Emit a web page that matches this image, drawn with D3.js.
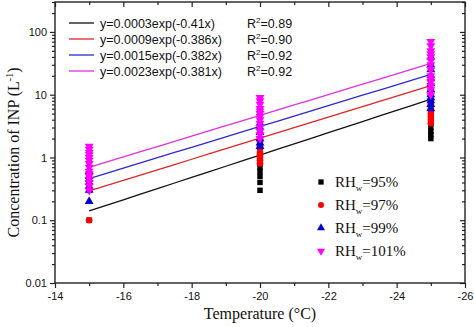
<!DOCTYPE html>
<html><head><meta charset="utf-8">
<script src="https://cdn.jsdelivr.net/npm/d3@7"></script>
<style>body{margin:0;background:#fff}svg{display:block}</style>
</head><body>
<svg id="c" width="474" height="327"></svg>
<script>
// ---- data ----
const temps = [-15, -20, -25];
const rh95  = [[0.1], [0.3, 0.4, 0.5, 0.6, 0.7, 0.8, 1.0], [2, 2.3, 2.6, 3, 3.5, 4, 4.5, 5, 6, 7, 8]];
const rh97  = [[0.1, 0.3], [0.8, 0.9, 1.0, 1.1, 1.2, 1.4, 1.5, 1.8, 2.0], [3.5, 4, 4.5, 5, 6, 7, 8, 10, 12]];
const rh99  = [[0.2, 0.3, 0.35, 0.4, 0.45, 0.5, 0.6], [1.5, 1.7, 2, 2.5, 3, 3.5], [6, 7, 8, 9, 10, 12, 15, 18, 20, 25, 30, 40]];
const rh101 = [[0.3, 0.35, 0.4, 0.45, 0.5, 0.55, 0.6, 0.7, 0.8, 0.9, 1.0, 1.1, 1.2, 1.35, 1.5], [2, 2.3, 2.6, 3, 3.5, 4, 4.5, 5, 5.5, 6, 7, 8, 9], [10, 12, 14, 16, 18, 20, 25, 30, 35, 40, 45, 50, 60, 70]];
const seriesNames = ["95%", "97%", "99%", "101%"];
const fitA = [0.0003, 0.0009, 0.0015, 0.0023];
const fitB = [0.41, 0.386, 0.382, 0.381];
const fitLabels = ["y=0.0003exp(-0.41x)", "y=0.0009exp(-0.386x)", "y=0.0015exp(-0.382x)", "y=0.0023exp(-0.381x)"];
const fitR2 = ["0.89", "0.90", "0.92", "0.92"];
const fitRange = [-15, -25];
const xTicks = [-14, -16, -18, -20, -22, -24, -26];
const xMinor = [-15, -17, -19, -21, -23, -25];
const yTicks = [0.01, 0.1, 1, 10, 100];
const yTickLabels = ["0.01", "0.1", "1", "10", "100"];

// ---- styles ----
const colors = ["#000000", "#ff0000", "#0000d0", "#ff00ff"];
const lineColors = ["#111111", "#e02525", "#2a2ad0", "#e030e0"];
const symbols = [d3.symbolSquare, d3.symbolCircle, d3.symbolTriangle, d3.symbolTriangle];
const rotations = [0, 0, 0, 180];
const symSizes = [30, 34, 34, 34];
const allSeries = [rh95, rh97, rh99, rh101];

const svg = d3.select("#c");
const L = 55, R = 465, T = 2, B = 283;
const x = d3.scaleLinear().domain([-14, -26]).range([L, R]);
const y = d3.scaleLog().domain([0.01, 300]).range([B, T]);

const yMinor = [];
for (let e = -2; e <= 2; e++) for (let k = 2; k <= 9; k++) { const v = k * Math.pow(10, e); if (v <= 300) yMinor.push(v); }

function styleAxis(g) {
  g.select(".domain").remove();
  g.selectAll("line").attr("stroke", "#222").attr("stroke-width", 1.2);
  g.selectAll("text").attr("font-family", "Liberation Sans, Arial, sans-serif").attr("font-size", 11).attr("fill", "#111");
}
// bottom
svg.append("g").attr("transform", `translate(0,${B})`).call(d3.axisBottom(x).tickValues(xTicks).tickFormat(d => d).tickSize(5).tickPadding(4).tickSizeOuter(0)).call(styleAxis);
svg.append("g").attr("transform", `translate(0,${B})`).call(d3.axisBottom(x).tickValues(xMinor).tickFormat("").tickSize(3).tickSizeOuter(0)).call(styleAxis);
// top (inward)
svg.append("g").attr("transform", `translate(0,${T})`).call(d3.axisBottom(x).tickValues(xTicks).tickFormat("").tickSize(5).tickSizeOuter(0)).call(styleAxis);
svg.append("g").attr("transform", `translate(0,${T})`).call(d3.axisBottom(x).tickValues(xMinor).tickFormat("").tickSize(3).tickSizeOuter(0)).call(styleAxis);
// left
svg.append("g").attr("transform", `translate(${L},0)`).call(d3.axisLeft(y).tickValues(yTicks).tickFormat((d, i) => yTickLabels[i]).tickSize(5).tickPadding(3).tickSizeOuter(0)).call(styleAxis);
svg.append("g").attr("transform", `translate(${L},0)`).call(d3.axisLeft(y).tickValues(yMinor).tickFormat("").tickSize(3).tickSizeOuter(0)).call(styleAxis);
// right (inward)
svg.append("g").attr("transform", `translate(${R},0)`).call(d3.axisLeft(y).tickValues(yTicks).tickFormat("").tickSize(5).tickSizeOuter(0)).call(styleAxis);
svg.append("g").attr("transform", `translate(${R},0)`).call(d3.axisLeft(y).tickValues(yMinor).tickFormat("").tickSize(3).tickSizeOuter(0)).call(styleAxis);
// frame
svg.append("rect").attr("x", L).attr("y", T).attr("width", R - L).attr("height", B - T)
  .attr("fill", "none").attr("stroke", "#222").attr("stroke-width", 1.4);

// fit lines
const line = d3.line().x(d => x(d[0])).y(d => y(d[1]));
fitA.forEach((a, i) => {
  const pts = d3.range(fitRange[0], fitRange[1] - 0.01, -0.5).map(t => [t, a * Math.exp(-fitB[i] * t)]);
  svg.append("path").attr("d", line(pts)).attr("fill", "none").attr("stroke", lineColors[i]).attr("stroke-width", 1.3);
});

// markers
allSeries.forEach((ser, si) => {
  const pts = [];
  ser.forEach((vals, ti) => vals.forEach(v => pts.push([temps[ti], v])));
  svg.append("g").selectAll("path").data(pts).join("path")
    .attr("d", d3.symbol().type(symbols[si]).size(symSizes[si]))
    .attr("transform", d => `translate(${x(d[0])},${y(d[1])}) rotate(${rotations[si]})`)
    .attr("fill", colors[si]);
});

// equation legend
const eqFont = "Liberation Sans, Arial, sans-serif";
fitLabels.forEach((lab, i) => {
  const cy = 23 + i * 16;
  svg.append("line").attr("x1", 69).attr("x2", 94).attr("y1", cy).attr("y2", cy).attr("stroke", lineColors[i]).attr("stroke-width", 1.3);
  svg.append("text").attr("x", 100).attr("y", cy + 4.5).attr("font-family", eqFont).attr("font-size", 12.5).attr("fill", "#111").text(lab);
  const t = svg.append("text").attr("x", 247).attr("y", cy + 4.5).attr("font-family", eqFont).attr("font-size", 12.5).attr("fill", "#111");
  t.append("tspan").text("R");
  t.append("tspan").attr("dy", -5).attr("font-size", 8).text("2");
  t.append("tspan").attr("dy", 5).text("=" + fitR2[i]);
});

// RH legend
const serif = "Liberation Serif, 'Times New Roman', serif";
seriesNames.forEach((nm, i) => {
  const cy = 182 + i * 23;
  svg.append("path").attr("d", d3.symbol().type(symbols[i]).size(28))
    .attr("transform", `translate(321,${cy}) rotate(${rotations[i]})`).attr("fill", colors[i]);
  const t = svg.append("text").attr("x", 335).attr("y", cy + 5).attr("font-family", serif).attr("font-size", 15).attr("fill", "#111");
  t.append("tspan").text("RH");
  t.append("tspan").attr("dy", 4).attr("font-size", 9).text("w");
  t.append("tspan").attr("dy", -4).text("=" + nm);
});

// axis titles
svg.append("text").attr("x", (L + R) / 2).attr("y", 319).attr("text-anchor", "middle")
  .attr("font-family", serif).attr("font-size", 16).attr("fill", "#111").text("Temperature (°C)");
const yl = svg.append("text").attr("transform", `translate(19,${(T + B) / 2 + 10}) rotate(-90)`).attr("text-anchor", "middle")
  .attr("font-family", serif).attr("font-size", 16).attr("fill", "#111");
yl.append("tspan").text("Concentration of INP (L");
yl.append("tspan").attr("dy", -6).attr("font-size", 10).text("-1");
yl.append("tspan").attr("dy", 6).text(")");
</script>
</body></html>
